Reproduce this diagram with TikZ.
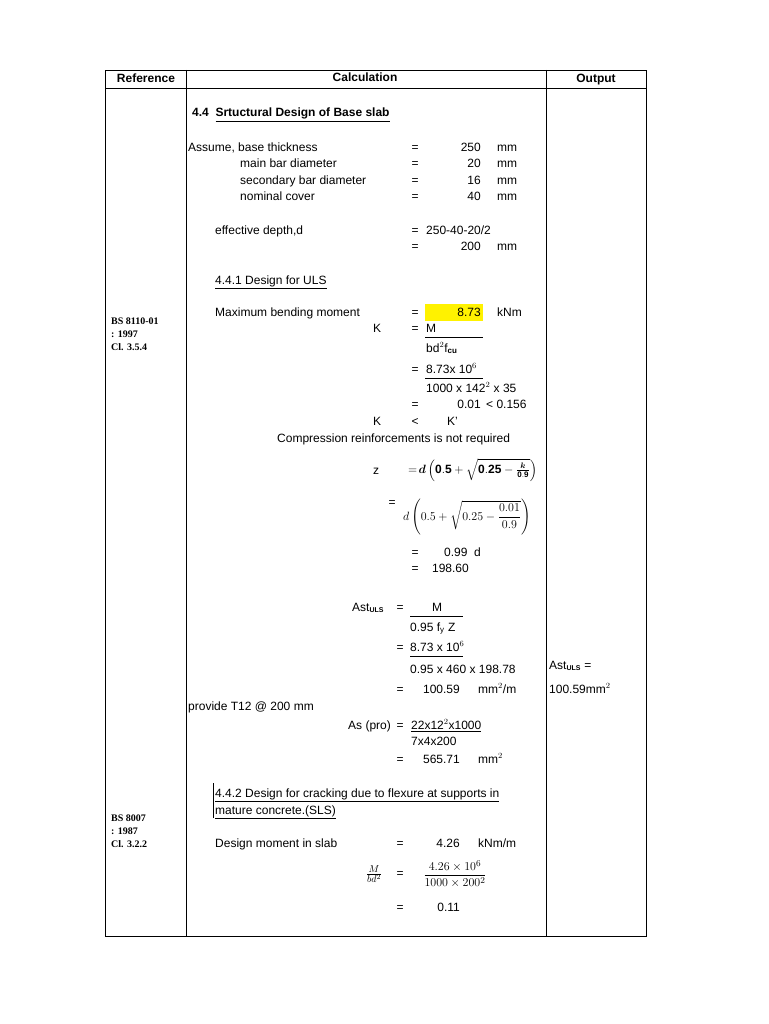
\documentclass[tikz,border=0pt]{standalone}
\usepackage{fontspec}
\setmainfont{Liberation Sans}
\newfontfamily\refserif{Liberation Serif}
\usepackage{amsmath}
\begin{document}
\begin{tikzpicture}[x=1pt,y=-1pt,
  t/.style={anchor=base west,inner sep=0pt,font=\fontsize{12}{14}\selectfont},
  r/.style={anchor=base east,inner sep=0pt,font=\fontsize{12}{14}\selectfont},
  c/.style={anchor=base,inner sep=0pt,font=\fontsize{12}{14}\selectfont},
  hd/.style={anchor=base,inner sep=0pt,font=\fontsize{12}{14}\selectfont\bfseries},
  rf/.style={anchor=base west,inner sep=0pt,align=left,font=\refserif\fontsize{10}{13}\selectfont\bfseries},
  mth/.style={inner sep=0pt,font=\fontsize{13}{15}\selectfont},
  ul/.style={line width=0.6pt},
  grid/.style={line width=0.9pt}]
\useasboundingbox (0,0) rectangle (768,1024);
\fill[white] (0,0) rectangle (768,1024);
% table
\draw[grid] (105,70) rectangle (646,936);
\draw[grid] (105,88) -- (646,88);
\draw[grid] (186,70) -- (186,936);
\draw[grid] (546,70) -- (546,936);
\node[hd] (h1) at (146,83) {Reference};
\node[hd] (h2) at (365,82) {Calculation};
\node[hd] (h3) at (596,83) {Output};
% refs
\node[rf] (ref1) at (111,350) {BS 8110-01\\: 1997\\Cl. 3.5.4};
\node[rf] (ref2) at (111,847) {BS 8007\\: 1987\\Cl. 3.2.2};
% heading
\node[t,font=\fontsize{12}{14}\selectfont\bfseries] (s44) at (192,117) {4.4\ \ \underline{Srtuctural Design of Base slab}};
% assumptions
\node[t] (a1) at (188,152) {Assume, base thickness};
\node[t] (a2) at (240,168) {main bar diameter};
\node[t] (a3) at (240,185) {secondary bar diameter};
\node[t] (a4) at (240,201) {nominal cover};
\foreach \y/\v [count=\i] in {152/250,168/20,185/16,201/40}{
  \node[c] (ae\i) at (415,\y) {=};
  \node[r] (av\i) at (481,\y) {\v};
  \node[t] (au\i) at (497,\y) {mm};
}
\node[t] (ed) at (215,235) {effective depth,d};
\node[c] (ede) at (415,235) {=};
\node[t] (edv) at (426,235) {250-40-20/2};
\node[c] (ede2) at (415,251) {=};
\node[r] (edv2) at (481,251) {200};
\node[t] (edu2) at (497,251) {mm};
% ULS
\node[t] (s441) at (215,284) {\underline{4.4.1 Design for ULS}};
\fill[yellow] (425,304) rectangle (483,321);
\node[t] (mbm) at (215,316) {Maximum bending moment};
\node[c] (mbe) at (415,316) {=};
\node[r] (mbv) at (481,316) {8.73};
\node[t] (mbu) at (497,316) {kNm};
\node[t] (k1) at (373,332) {K};
\node[c] (k1e) at (415,332) {=};
\node[t] (k1n) at (426,332) {M};
\draw[ul] (425,337) -- (483,337);
\node[t] (k1d) at (426,352) {bd$^{2}$f$_{\textbf{cu}}$};
\node[c] (k2e) at (415,373) {=};
\node[t] (k2n) at (426,373) {8.73x 10$^{6}$};
\draw[ul] (425,378) -- (483,378);
\node[t] (k2d) at (426,392) {1000 x 142$^{2}$ x 35};
\node[c] (k3e) at (415,408) {=};
\node[r] (k3v) at (481,408) {0.01};
\node[t] (k3w) at (486,408) {< 0.156};
\node[t] (k4a) at (373,425) {K};
\node[c] (k4b) at (415,425) {<};
\node[t] (k4c) at (447,425) {K'};
\node[t] (cr) at (277,442) {Compression reinforcements is not required};
% z
\node[t] (z1) at (373,474) {z};
\node[mth,anchor=west,font=\fontsize{12}{14}\selectfont] (z1f) at (408,470) {$=\!\boldsymbol{d}\left(\mathbf{0.5}+\sqrt{\mathbf{0.25}-\tfrac{\boldsymbol{k}}{\mathbf{0.9}}}\right)$};
\node[c] (z2e) at (392,506) {=};
\node[mth,anchor=west,font=\fontsize{12.5}{15}\selectfont] (z2f) at (403,517) {$\displaystyle d\left(0.5+\sqrt{0.25-\frac{0.01}{0.9}}\right)$};
\node[c] (z3e) at (415,556) {=};
\node[r] (z3v) at (481,556) {0.99\ \ d};
\node[c] (z4e) at (415,572) {=};
\node[r] (z4v) at (469,572) {198.60};
% Ast
\node[t] (as1) at (352,611) {Ast$_{\textbf{\scriptsize ULS}}$};
\node[c] (as1e) at (400,611) {=};
\node[c] (as1n) at (437,611) {M};
\draw[ul] (410,616) -- (463,616);
\node[t] (as1d) at (410,631) {0.95 f$_{\textrm{y}}$ Z};
\node[c] (as2e) at (400,651) {=};
\node[t] (as2n) at (410,651) {8.73 x 10$^{6}$};
\draw[ul] (410,656) -- (463,656);
\node[t] (as2d) at (410,673) {0.95 x 460 x 198.78};
\node[c] (as3e) at (400,693) {=};
\node[r] (as3v) at (460,693) {100.59};
\node[t] (as3u) at (478,693) {mm$^{2}$/m};
\node[t] (out1) at (549,669) {Ast$_{\textbf{\scriptsize ULS}}$ =};
\node[t] (out2) at (549,693) {100.59mm$^{2}$};
\node[t] (prov) at (188,710) {provide T12 @ 200 mm};
\node[t] (asp) at (348,729) {As (pro)};
\node[c] (aspe) at (400,729) {=};
\node[t] (aspn) at (411,729) {\underline{22x12$^{2}$x1000}};
\node[t] (aspd) at (411,745) {7x4x200};
\node[c] (asp2e) at (400,763) {=};
\node[r] (asp2v) at (460,763) {565.71};
\node[t] (asp2u) at (478,763) {mm$^{2}$};
% SLS
\draw[line width=0.8pt] (213,783) -- (213,818);
\node[t] (s442a) at (215,797) {\underline{4.4.2 Design for cracking due to flexure at supports in}};
\node[t] (s442b) at (215,814) {\underline{mature concrete.(SLS)}};
\node[t] (dm) at (215,847) {Design moment in slab};
\node[c] (dme) at (400,847) {=};
\node[r] (dmv) at (460,847) {4.26};
\node[t] (dmu) at (478,847) {kNm/m};
\node[mth,font=\fontsize{14}{16}\selectfont] (mbd) at (374,874) {$\frac{M}{bd^2}$};
\node[c] (mbde) at (400,877) {=};
\node[mth,font=\fontsize{12.5}{15}\selectfont] (mbdf) at (455,874) {$\dfrac{4.26\times10^{6}}{1000\times200^{2}}$};
\node[c] (fe) at (400,911) {=};
\node[r] (fv) at (460,911) {0.11};
\end{tikzpicture}
\end{document}
